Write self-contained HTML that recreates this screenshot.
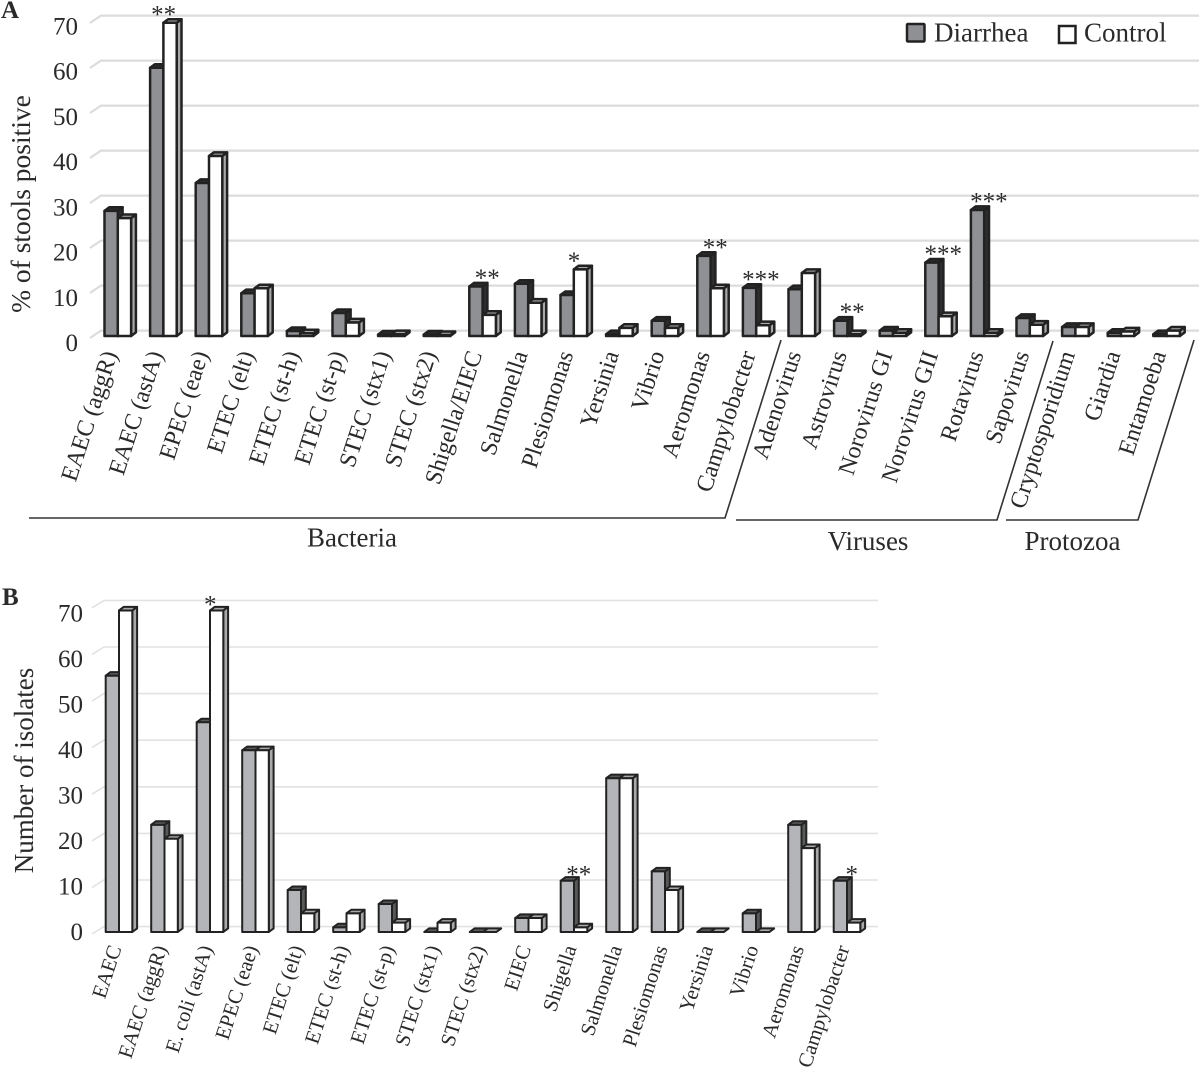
<!DOCTYPE html>
<html lang="en">
<head>
<meta charset="utf-8">
<title>Enteropathogen prevalence in diarrhea and control stools</title>
<style>
html,body{margin:0;padding:0;background:#fff;width:1200px;height:1067px;overflow:hidden}
svg{display:block}
text{font-family:"Liberation Serif",serif;fill:#2a2a2a}
</style>
</head>
<body>
<svg id="figure" width="1200" height="1067" viewBox="0 0 1200 1067" xmlns="http://www.w3.org/2000/svg">
  <text x="1" y="18" font-size="25" font-weight="bold" fill="#222">A</text>
  <text x="2" y="605" font-size="25" font-weight="bold" fill="#222">B</text>

  <text transform="translate(30,204) rotate(-90)" text-anchor="middle" font-size="27.5">% of stools positive</text>
  <text transform="translate(33,770.5) rotate(-90)" text-anchor="middle" font-size="27">Number of isolates</text>

  <g>
    <rect x="907" y="24" width="17.5" height="17.5" rx="1" fill="#8f9094" stroke="#222" stroke-width="2.5"/>
    <text x="934" y="41.5" font-size="27">Diarrhea</text>
    <rect x="1059" y="26" width="16.5" height="17" fill="#fff" stroke="#222" stroke-width="2.5"/>
    <text x="1084" y="41.5" font-size="27">Control</text>
  </g>

  <g fill="none" stroke="#333" stroke-width="1.6">
    <polyline points="29,518 725,518 781,340"/>
    <polyline points="736,520 997,520 1053,341"/>
    <polyline points="1006,520 1138,520 1194,340"/>
  </g>
  <text x="352" y="546.5" text-anchor="middle" font-size="27">Bacteria</text>
  <text x="868" y="550" text-anchor="middle" font-size="27">Viruses</text>
  <text x="1072.5" y="550" text-anchor="middle" font-size="27">Protozoa</text>
</svg>

<script>
// Panel A data: % of stools positive.
const categoriesA = ["EAEC (aggR)","EAEC (astA)","EPEC (eae)","ETEC (elt)","ETEC (st-h)","ETEC (st-p)","STEC (stx1)","STEC (stx2)","Shigella/EIEC","Salmonella","Plesiomonas","Yersinia","Vibrio","Aeromonas","Campylobacter","Adenovirus","Astrovirus","Norovirus GI","Norovirus GII","Rotavirus","Sapovirus","Cryptosporidium","Giardia","Entamoeba"];
const diarrheaA = [27.8,59.6,34,9.5,1.1,5.1,0.3,0.3,11,11.6,9.1,0.4,3.4,17.8,10.7,10.4,3.4,1.2,16.3,28,4,2,0.7,0.4];
const controlA = [26.2,69.6,40,10.6,0.6,3,0.4,0.2,4.7,7.4,14.8,1.8,1.8,10.6,2.4,14,0.4,0.7,4.4,0.7,2.5,2,1,1.2];
const significanceA = ["","**","","","","","","","**","","*","","","**","***","","**","","***","***","","","",""];
const tickLabelsA = [0,10,20,30,40,50,60,70];

// Panel B data: number of isolates.
const categoriesB = ["EAEC","EAEC (aggR)","E. coli (astA)","EPEC (eae)","ETEC (elt)","ETEC (st-h)","ETEC (st-p)","STEC (stx1)","STEC (stx2)","EIEC","Shigella","Salmonella","Plesiomonas","Yersinia","Vibrio","Aeromonas","Campylobacter"];
const diarrheaB = [55,23,45,39,9,1,6,0,0,3,11,33,13,0,4,23,11];
const controlB = [69,20,69,39,4,4,2,2,0,3,1,33,9,0,0,18,2];
const significanceB = ["","","*","","","","","","","","**","","","","","","*"];
const tickLabelsB = [0,10,20,30,40,50,60,70];

const NS = "http://www.w3.org/2000/svg";
const svg = document.getElementById("figure");

function make(tag, attrs, parent) {
  const el = document.createElementNS(NS, tag);
  for (const k in attrs) el.setAttribute(k, attrs[k]);
  parent.appendChild(el);
  return el;
}

function drawBar(g, left, width, yBase, yTop, depthX, depthY, fill, sideFill, topFill, stroke, sw) {
  const right = left + width;
  const side = make("polygon", {points: `${right},${yBase} ${right + depthX},${yBase + depthY} ${right + depthX},${yTop + depthY} ${right},${yTop}`, fill: sideFill, stroke: stroke, "stroke-width": sw, "stroke-linejoin": "round"}, g);
  
  
  const top = make("polygon", {points: `${left},${yTop} ${left + depthX},${yTop + depthY} ${right + depthX},${yTop + depthY} ${right},${yTop}`, fill: topFill, stroke: stroke, "stroke-width": sw, "stroke-linejoin": "round"}, g);
  
  
  const front = make("rect", {x: left, y: yTop, width: width, height: Math.max(yBase - yTop, 0), fill: fill, stroke: stroke, "stroke-width": sw, "stroke-linejoin": "round"}, g);
  
  
}

function addLabel(g, str, x, y, size) {
  const t = make("text", {transform: `translate(${x},${y}) rotate(-72)`, "text-anchor": "end", "font-size": size}, g);
  
  
  t.textContent = str;
}

function drawPanel(cfg) {
  const g = make("g", {}, svg);
  
  

  const yFront = v => cfg.y0 - v * cfg.pxPerUnit;
  const groupLeft = i => cfg.x0 + i * cfg.step;

  const grid = make("g", {}, g);
  
  
  const ticks = make("g", {}, g);
  
  

  cfg.ticks.forEach(v => {
    const yb = yFront(v) - cfg.gridOffset;
    const line = make("polyline", {points: `${cfg.tickX},${yb + cfg.gridOffset + 2} ${cfg.gridX0},${yb} ${cfg.gridX1},${yb}`, fill: "none", stroke: cfg.gridColor, "stroke-width": cfg.gridWidth}, grid);
    
    
    const label = make("text", {x: cfg.labelX, y: yFront(v) + cfg.tickDy + v * cfg.tickShift, "text-anchor": "end", "font-size": 25}, ticks);
    
    
    label.textContent = String(v);
  });

  const bars = make("g", {}, g);
  
  
  const labels = make("g", {}, g);
  
  
  const stars = make("g", {}, g);
  
  

  cfg.categories.forEach((name, i) => {
    const left = groupLeft(i);
    const d = cfg.diarrhea[i], c = cfg.control[i];
    drawBar(bars, left, cfg.barW, cfg.y0, yFront(d), cfg.dx, cfg.dy, cfg.fill, cfg.darkFace, cfg.darkFace, "#222", cfg.sw);
    drawBar(bars, left + cfg.barW, cfg.barW, cfg.y0, yFront(c), cfg.dx, cfg.dy, "#fff", "#a8a9ab", "#a8a9ab", "#222", cfg.sw);
    addLabel(labels, name, left + cfg.labelDx, cfg.labelY, cfg.labelSize);
    if (cfg.significance[i]) {
      const star = make("text", {x: left + (c > d ? 13.5 : 18), y: yFront(Math.max(d, c)) + cfg.starDy, "text-anchor": "middle", "font-size": 25, fill: "#333"}, stars);
      
      
      star.textContent = cfg.significance[i];
    }
  });
}

drawPanel({
  name: "panel-a-chart",
  categories: categoriesA, diarrhea: diarrheaA, control: controlA, significance: significanceA, ticks: tickLabelsA,
  x0: 104.5, step: 45.6, barW: 13.3, y0: 336, pxPerUnit: 4.5, dx: 4.8, dy: -3.6, sw: 2.5,
  gridOffset: 5.4, gridX0: 101, gridX1: 1199, tickX: 90, gridColor: "#dcdcdc", gridWidth: 2.2,
  labelX: 78, tickDy: 15, tickShift: -0.025,
  fill: "#8f9094", darkFace: "#2e2e30",
  labelDx: 13, labelY: 354, labelSize: 24, starDy: -0.5
});

drawPanel({
  name: "panel-b-chart",
  categories: categoriesB, diarrhea: diarrheaB, control: controlB, significance: significanceB, ticks: tickLabelsB,
  x0: 105.7, step: 45.5, barW: 13.3, y0: 932, pxPerUnit: 4.66, dx: 4.8, dy: -3.6, sw: 2,
  gridOffset: 5.4, gridX0: 104, gridX1: 878, tickX: 92, gridColor: "#e2e2e2", gridWidth: 1.6,
  labelX: 83, tickDy: 8, tickShift: 0.11,
  fill: "#b4b5b8", darkFace: "#58595b",
  labelDx: 16, labelY: 948, labelSize: 20.8, starDy: 2
});
</script>
</body>
</html>
